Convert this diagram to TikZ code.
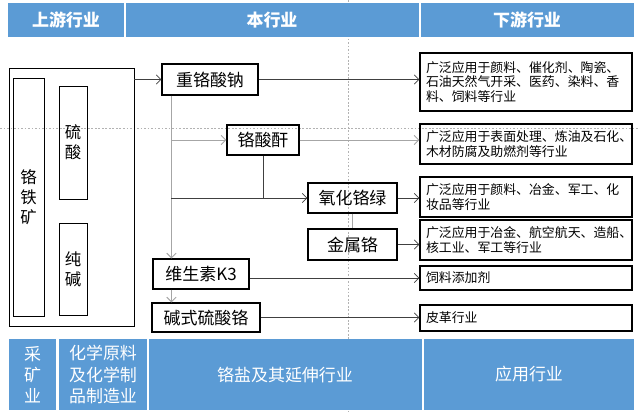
\documentclass[tikz,border=0pt]{standalone}
\usepackage{fontspec}
\setmainfont{Noto Sans CJK SC}
\definecolor{bandblue}{HTML}{5B9BD5}
\usepackage{tikz}
\usetikzlibrary{calc, positioning, arrows.meta}
\newlength{\px}
\setlength{\px}{0.3mm}

\begin{document}
\begin{tikzpicture}[
  x=0.3mm, y=-0.3mm,
  band/.style={fill=bandblue, text=white, inner sep=0pt, align=center,
               font=\fontsize{14.5}{18}\selectfont},
  head/.style={band, font=\bfseries\fontsize{14.5}{18}\selectfont},
  raw/.style={draw, line width=0.8pt, inner sep=0pt, align=center,
              font=\fontsize{14}{17}\selectfont},
  salt/.style={draw, line width=0.9pt, inner sep=0pt,
               font=\fontsize{14.5}{17}\selectfont},
  usage/.style={draw, line width=0.9pt, text width=200\px, inner xsep=6\px,
                inner ysep=0pt, align=left, font=\fontsize{11}{12.5}\selectfont},
  link/.style={draw=black!75, line width=0.6pt},
  trunk/.style={draw=black!35, line width=0.8pt},
  arr/.style={-{Straight Barb[length=4pt, width=8pt]}},
  guide/.style={draw=black!30, line width=0.4pt, dash pattern=on 1.5pt off 1.5pt},
]
\useasboundingbox (0,0) rectangle (640,412);

% guides
\draw[guide] (0,128) -- (640,128);
\draw[guide] (348,0) -- (348,412);

% header and footer bands
\node[head, minimum width=116\px, minimum height=34\px] (hup) at (66,20) {上游行业};
\node[head, minimum width=293\px, minimum height=34\px] (hmid) at (272,20) {本行业};
\node[head, minimum width=213\px, minimum height=34\px] (hdown) at (527,20) {下游行业};

\node[band, minimum width=47\px, minimum height=71\px] (fmine) at (32.5,374.5) {采\\矿\\业};
\node[band, minimum width=88\px, minimum height=71\px] (fchem) at (103,374.5) {化学原料\\及化学制\\品制造业};
\node[band, minimum width=273\px, minimum height=71\px] (fsalt) at (285,374.5) {铬盐及其延伸行业};
\node[band, minimum width=210\px, minimum height=71\px] (fuse) at (529,374.5) {应用行业};

% raw materials
\node[draw, line width=0.8pt, minimum width=125\px, minimum height=258\px] (src) at (71.5,197) {};
\node[raw, minimum width=31\px, minimum height=238\px] (ore) at (28.5,197) {铬\\铁\\矿};
\node[raw, minimum width=28\px, minimum height=113\px] (acid) at (73,142.5) {硫\\酸};
\node[raw, minimum width=28\px, minimum height=92\px] (soda) at (73,269) {纯\\碱};

% chromium salts
\node[salt, minimum width=96\px, minimum height=31\px] (na) at (210,79.5) {重铬酸钠};
\node[salt, minimum width=72\px, minimum height=30\px] (cro3) at (263,140) {铬酸酐};
\node[salt, minimum width=89\px, minimum height=30\px] (cr2o3) at (352.5,198) {氧化铬绿};
\node[salt, minimum width=89\px, minimum height=31\px] (crmet) at (352.5,244.5) {金属铬};
\node[salt, minimum width=96\px, minimum height=30\px] (vk3) at (201,274) {维生素K3};
\node[salt, minimum width=108\px, minimum height=29\px] (bcs) at (206,317.5) {碱式硫酸铬};

% downstream uses
\node[usage, minimum height=58\px] (u1) at (526,82) {广泛应用于颜料、催化剂、陶瓷、\\石油天然气开采、医药、染料、香\\料、饲料等行业};
\node[usage, minimum height=40\px] (u2) at (526,144) {广泛应用于表面处理、炼油及石化、\\木材防腐及助燃剂等行业};
\node[usage, minimum height=40\px] (u3) at (526,197) {广泛应用于颜料、冶金、军工、化\\妆品等行业};
\node[usage, minimum height=40\px] (u4) at (526,240) {广泛应用于冶金、航空航天、造船、\\核工业、军工等行业};
\node[usage, minimum height=24\px] (u5) at (526,278) {饲料添加剂};
\node[usage, minimum height=26\px] (u6) at (526,318) {皮革行业};

% connectors
\coordinate (top) at ([xshift=10\px]na.south west);
\draw[link, arr] (src.east |- na.west) -- (na.west);
\draw[link, arr] (na.east) -- (na.east -| u1.west);
\draw[trunk, arr] (top) -- (top |- vk3.north);
\draw[trunk, arr] (top |- cro3.west) -- (cro3.west);
\draw[trunk, arr] (cro3.east) -- (cro3.east -| u2.west);
\draw[link, arr] (top |- cr2o3.west) -- (cr2o3.west);
\draw[link] (cro3.south) -- (cro3.south |- cr2o3.west);
\draw[link, arr] (cr2o3.east) -- (cr2o3.east -| u3.west);
\draw[trunk] (cr2o3) -- (crmet);
\draw[link, arr] (crmet.east) -- (crmet.east -| u4.west);
\draw[trunk, arr] (top |- vk3.south) -- (top |- bcs.north);
\draw[link, arr] (vk3.east |- u5.west) -- (u5.west);
\draw[link, arr] (bcs.east) -- (bcs.east -| u6.west);
\end{tikzpicture}
\end{document}
